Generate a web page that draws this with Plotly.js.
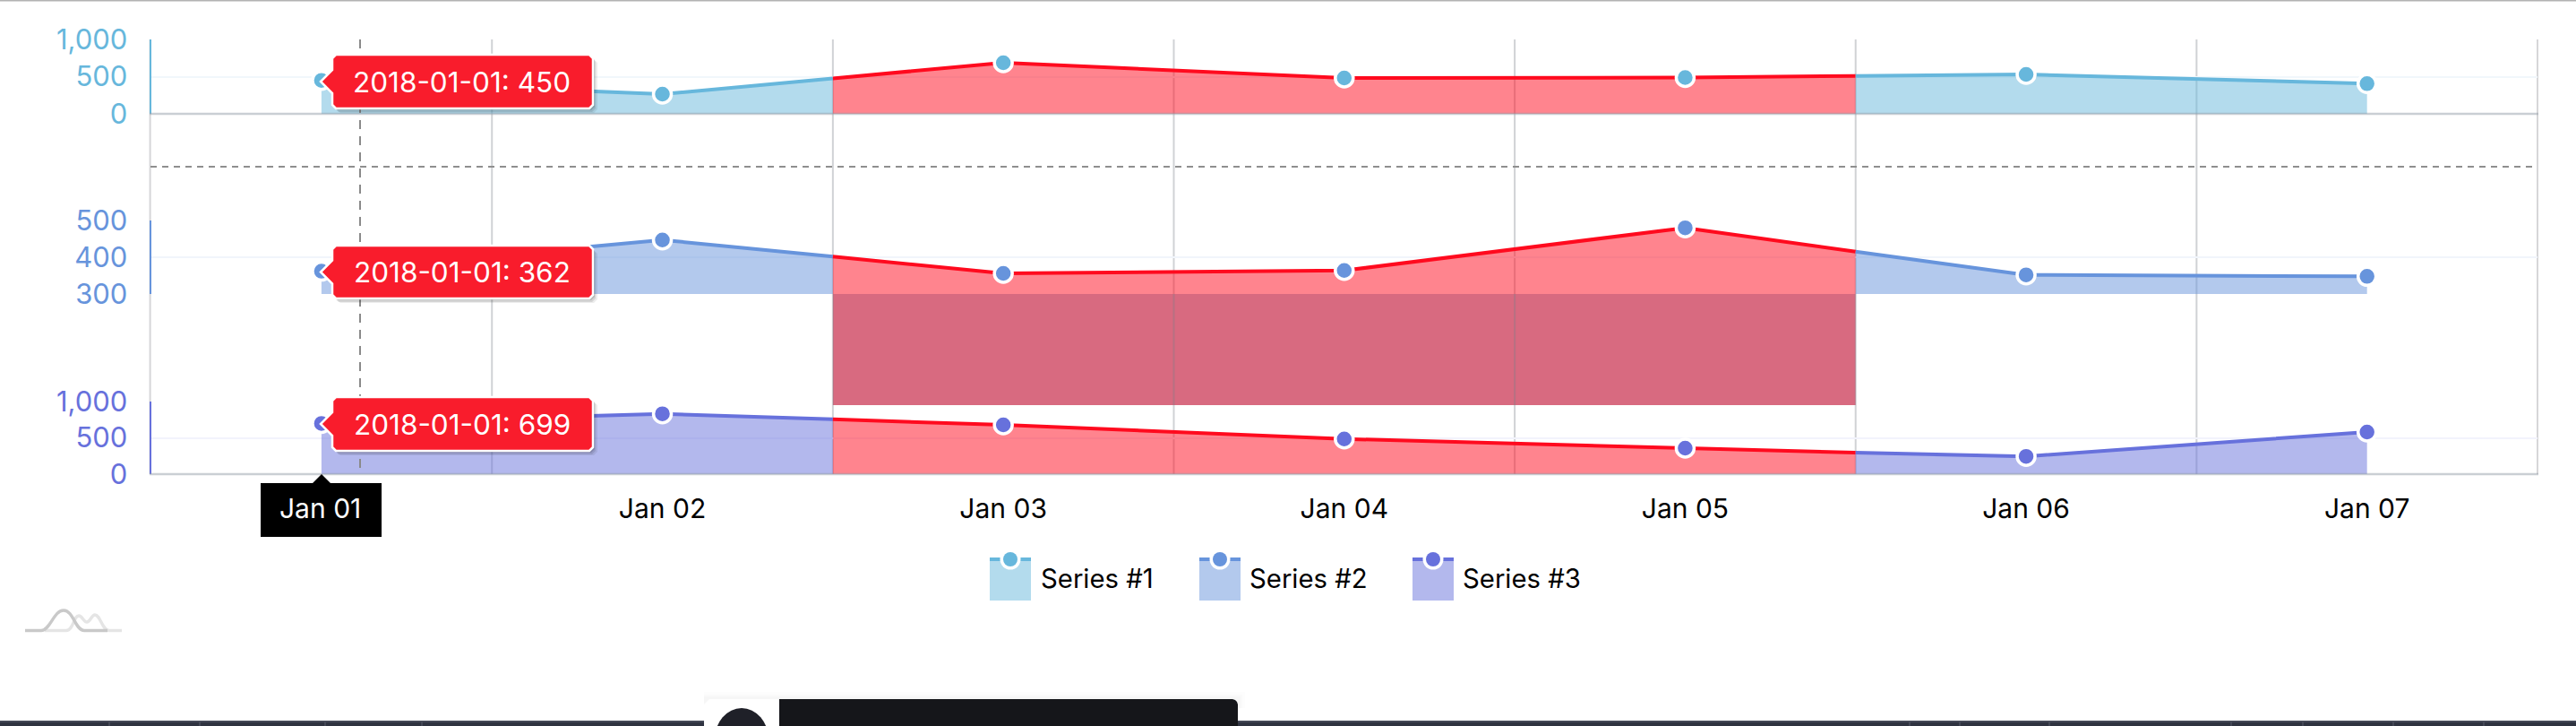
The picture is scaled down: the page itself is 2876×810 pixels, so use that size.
<!DOCTYPE html>
<html><head><meta charset="utf-8">
<script src="https://cdn.plot.ly/plotly-3.0.1.min.js"></script>
<style>html,body{margin:0;padding:0;background:#fff;overflow:hidden}#c{width:2876px;height:810px}</style>
</head><body><div id="c"></div>
<script>
const categories = ['Jan 01','Jan 02','Jan 03','Jan 04','Jan 05','Jan 06','Jan 07'];
const positions = [0,1,2,3,4,5,6];
const series1 = [450,265,687,482,488,530,406];
const series2 = [362,447,356,364,480,352,348];
const series3 = [699,831,679,485,358,245,580];
// values read where the red range starts and ends
const edges1 = [476,509];
const edges2 = [402,415];
const edges3 = [755,295];
const redRange = [1.5,4.5];
const names = ['Series #1','Series #2','Series #3'];
const colors = ['#67b7dc','#6794dc','#6771dc'];
const fills = ['rgba(103,183,220,0.5)','rgba(103,148,220,0.5)','rgba(103,113,220,0.5)'];
const tooltipDate = '2018-01-01';
const RED='#ff0a1e', REDFILL='rgba(255,10,30,0.5)';

const W=2876,H=810;
const X=p=>p/W, Y=p=>1-p/H;
const dom=(top,bot)=>[1-bot/H,1-top/H];

const traces=[];
function addSeries(vals,edge,i,ax){
  const seg=(xs,ys,c,f)=>traces.push({x:xs,y:ys,yaxis:ax,type:'scatter',mode:'lines',fill:'tozeroy',
    fillcolor:f,line:{color:c,width:4},hoverinfo:'skip',showlegend:false});
  seg([0,1,redRange[0]],[vals[0],vals[1],edge[0]],colors[i],fills[i]);
  seg([redRange[0],2,3,4,redRange[1]],[edge[0],vals[2],vals[3],vals[4],edge[1]],RED,REDFILL);
  seg([redRange[1],5,6],[edge[1],vals[5],vals[6]],colors[i],fills[i]);
}
addSeries(series1,edges1,0,'y');
addSeries(series2,edges2,1,'y2');
addSeries(series3,edges3,2,'y3');
[series1,series2,series3].forEach((v,i)=>traces.push({x:positions,y:v,yaxis:i?'y'+(i+1):'y',type:'scatter',mode:'markers',
  name:names[i],marker:{color:colors[i],size:20,line:{color:'#fff',width:3.5}},cliponaxis:false,hoverinfo:'skip',showlegend:false}));

const shapes=[];
const paperShape=o=>Object.assign({layer:'above',xref:'paper',yref:'paper'},o);
// dark block between the lower panels
shapes.push({type:'rect',layer:'below',xref:'x',yref:'paper',x0:redRange[0],x1:redRange[1],y0:Y(452),y1:Y(328),fillcolor:'#d86a80',line:{width:0}});
// band separators
[0.5,1.5,2.5,3.5,4.5,5.5].forEach(x=>shapes.push({type:'line',layer:'below',xref:'x',yref:'paper',x0:x,x1:x,y0:Y(529),y1:Y(44),
  line:{color:'rgba(120,125,135,0.35)',width:2}}));
[167.6,2833].forEach(x=>shapes.push({type:'line',layer:'below',xref:'paper',yref:'paper',x0:X(x),x1:X(x),y0:Y(529),y1:Y(44),line:{color:'#d6d6d8',width:2}}));
// panel base lines
[127,529].forEach(y=>shapes.push(paperShape({type:'line',x0:X(167),x1:X(2834),y0:Y(y),y1:Y(y),line:{color:'rgba(150,160,170,0.5)',width:2.5}})));
// divider and cursor
shapes.push(paperShape({type:'line',x0:X(168),x1:X(2833),y0:Y(186),y1:Y(186),line:{color:'#8f8f8f',width:2,dash:'7px,6px'}}));
shapes.push(paperShape({type:'line',x0:X(402),x1:X(402),y0:Y(44),y1:Y(529),line:{color:'#8a8a8a',width:2,dash:'10px,8px'}}));

function pathStr(pts){return pts.map((p,i)=>(i?'L':'M')+X(p[0])+','+Y(p[1])).join(' ')+' Z';}
function tipPts(t,b,dx,dy){
  const l=371+dx,r=662+dx,c=(t+b)/2;t+=dy;b+=dy;const cc=c+dy,a=4;
  return [[l+a,t],[r-a,t],[r,t+a],[r,b-a],[r-a,b],[l+a,b],[l,b-a],[l,cc+13],[358+dx,cc],[l,cc-13],[l,t+a]];
}
const tipBoxes=[[61,121],[274,333],[443,503]];
const tipVals=[series1[0],series2[0],series3[0]];
const annotations=[];
const font=(s,c)=>({family:'Inter, "Noto Sans", sans-serif',size:s,color:c});
tipBoxes.forEach((b,i)=>{
  [[5,5,.07],[3,4,.1],[2,2,.14]].forEach(s=>shapes.push(paperShape({type:'path',path:pathStr(tipPts(b[0],b[1],s[0],s[1])),fillcolor:'rgba(0,0,0,'+s[2]+')',line:{width:0}})));
  shapes.push(paperShape({type:'path',path:pathStr(tipPts(b[0],b[1],0,0)),fillcolor:'#f91c2c',line:{color:'#fff',width:2.5}}));
  annotations.push({xref:'paper',yref:'paper',x:X(515.5),y:Y((b[0]+b[1])/2),xanchor:'center',yanchor:'middle',showarrow:false,
    text:tooltipDate+': '+tipVals[i],font:font(31.5,'#fff')});
});
// axis tooltip
shapes.push(paperShape({type:'path',path:pathStr([[291,539],[349,539],[359,529],[369,539],[426,539],[426,599],[291,599]]),fillcolor:'#000',line:{width:0}}));
annotations.push({xref:'paper',yref:'paper',x:X(357.5),y:Y(567),xanchor:'center',yanchor:'middle',showarrow:false,text:categories[0],font:font(30,'#fff')});
// legend
const legX=[1105,1339,1577], legT=[1160,1393,1631];
names.forEach((n,i)=>{
  const x=legX[i];
  shapes.push(paperShape({type:'rect',x0:X(x),x1:X(x+46),y0:Y(670),y1:Y(622),fillcolor:fills[i],line:{width:0}}));
  shapes.push(paperShape({type:'rect',x0:X(x),x1:X(x+46),y0:Y(626),y1:Y(622),fillcolor:colors[i],line:{width:0}}));
  shapes.push(paperShape({type:'circle',x0:X(x+23-11.5),x1:X(x+23+11.5),y0:Y(635.5),y1:Y(612.5),fillcolor:'#fff',line:{width:0}}));
  shapes.push(paperShape({type:'circle',x0:X(x+23-8),x1:X(x+23+8),y0:Y(632),y1:Y(616),fillcolor:colors[i],line:{width:0}}));
  annotations.push({xref:'paper',yref:'paper',x:X(legT[i]),y:Y(645),xanchor:'left',yanchor:'middle',showarrow:false,text:n,font:font(29.3,'#000')});
});
// logo
function curve(d){return d.replace(/(-?\d+(?:\.\d+)?),(-?\d+(?:\.\d+)?)/g,(m,a,b)=>X(+a)+','+Y(+b));}
shapes.push(paperShape({type:'path',line:{color:'#e5e5e5',width:3.4},
  path:curve('M50,703.5 L74,703.5 C82,703.5 82,687 88,687 C92,687 93,694 97,694 C101,694 102,686 106,686 C112,686 114,703.5 122,703.5 L136,703.5')}));
shapes.push(paperShape({type:'path',line:{color:'#c9c9c9',width:3.4},
  path:curve('M28,703.5 L46,703.5 C56,703.5 60,681 71,681 C82,681 84,703.5 94,703.5 L120,703.5')}));
// page edges
shapes.push(paperShape({type:'rect',x0:0,x1:1,y0:Y(1.5),y1:1,fillcolor:'#b3b3b3',line:{width:0}}));
shapes.push(paperShape({type:'rect',x0:0,x1:1,y0:0,y1:Y(804),fillcolor:'#2f3340',line:{width:0}}));
shapes.push(paperShape({type:'rect',x0:0,x1:1,y0:Y(806),y1:Y(804),fillcolor:'#444856',line:{width:0}}));
[122,223,363,471,2132,2188,2288,2491,2571,2672,2773].forEach(x=>shapes.push(paperShape({type:'line',x0:X(x),x1:X(x),y0:0,y1:Y(805),line:{color:'#4b4f5d',width:1.5}})));
[[8,.008],[5,.012],[3,.016]].forEach(s=>shapes.push(paperShape({type:'rect',x0:X(786),x1:X(1382+s[0]),y0:Y(790),y1:Y(780-s[0]),fillcolor:'rgba(0,0,0,'+s[1]+')',line:{width:0}})));
shapes.push(paperShape({type:'path',fillcolor:'#fff',line:{width:0},path:pathStr([[786,810],[786,786],[792,780],[872,780],[872,810]])}));
shapes.push(paperShape({type:'path',fillcolor:'#15161a',line:{width:0},path:pathStr([[870,810],[870,780],[1376,780],[1379,781],[1381,783],[1382,786],[1382,810]])}));
shapes.push(paperShape({type:'circle',x0:X(798),x1:X(858),y0:Y(860),y1:Y(790),fillcolor:'#1f2028',line:{width:0}}));

const yCommon=(color)=>({type:'linear',anchor:'x',showline:true,linecolor:color,linewidth:2,showgrid:true,gridwidth:2,
  zeroline:false,ticks:'',tickfont:font(31,color),tickformat:',',ticklabelstandoff:18,fixedrange:true});
const layout={
  width:W,height:H,margin:{l:0,r:0,t:0,b:0,autoexpand:false},paper_bgcolor:'#fff',plot_bgcolor:'rgba(0,0,0,0)',showlegend:false,hovermode:false,
  xaxis:{domain:[168.6/W,2833/W],range:[-0.5,6.5],anchor:'y3',tickmode:'array',tickvals:positions,ticktext:categories,
    showgrid:false,zeroline:false,showline:false,ticks:'',tickfont:font(30,'#000'),ticklabelstandoff:18,fixedrange:true},
  yaxis:Object.assign(yCommon(colors[0]),{domain:dom(44,127),range:[0,1000],tickvals:[0,500,1000],gridcolor:'#f1f7fb'}),
  yaxis2:Object.assign(yCommon(colors[1]),{domain:dom(246,328),range:[300,500],tickvals:[300,400,500],gridcolor:'#f1f5fb'}),
  yaxis3:Object.assign(yCommon(colors[2]),{domain:dom(448,529),range:[0,1000],tickvals:[0,500,1000],gridcolor:'#f2f3fc'}),
  shapes,annotations
};
Plotly.newPlot('c',traces,layout,{displayModeBar:false,staticPlot:true});
</script></body></html>
